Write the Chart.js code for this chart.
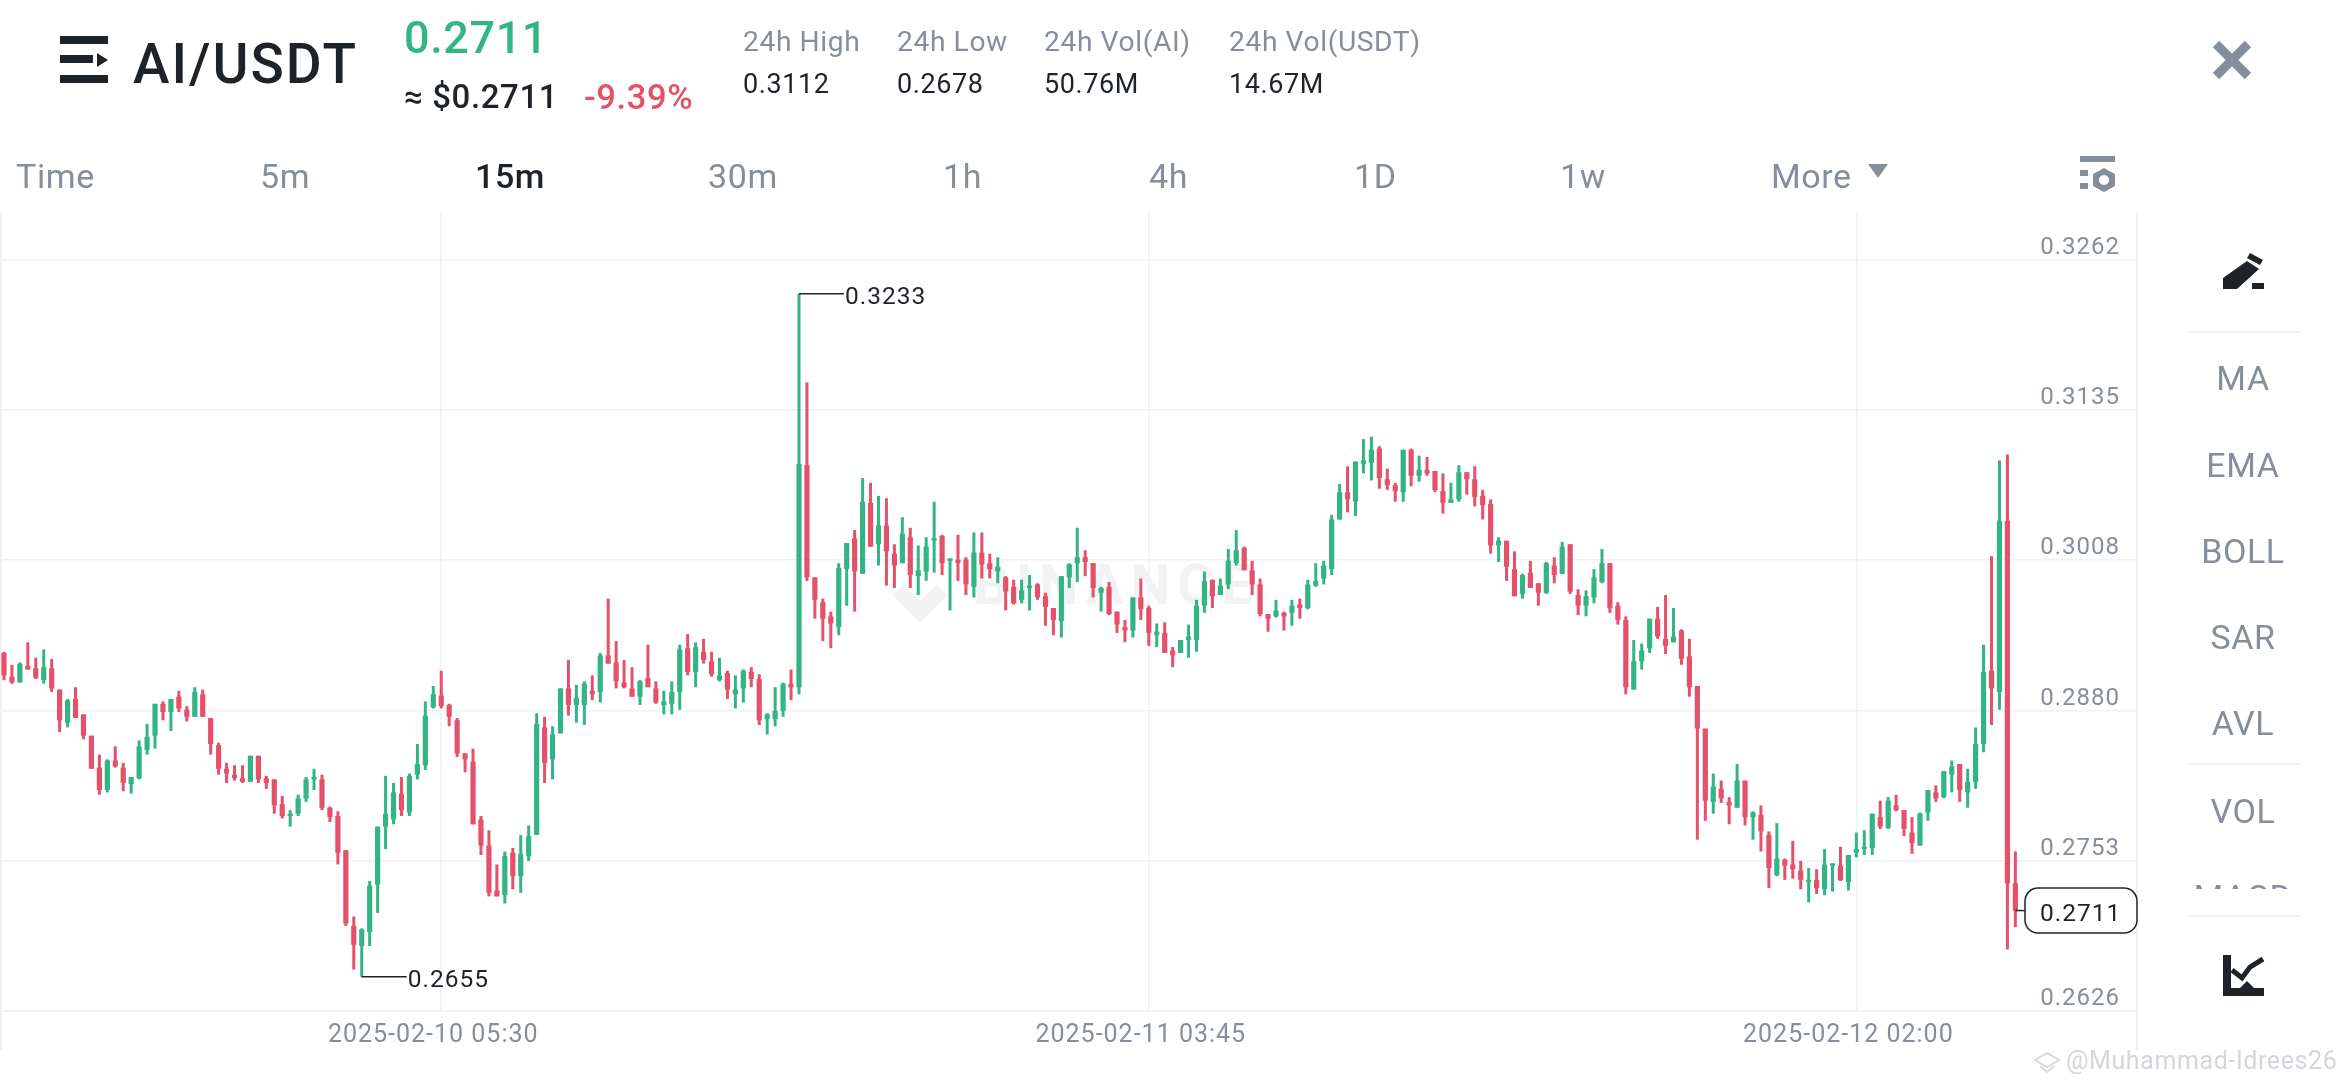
<!DOCTYPE html>
<html>
<head>
<meta charset="utf-8">
<title>AI/USDT</title>
<script src="https://cdn.jsdelivr.net/npm/chart.js@4/dist/chart.umd.js"></script>
<style>
html, body { margin: 0; padding: 0; background: #fff; }
body { width: 2340px; height: 1080px; position: relative; overflow: hidden; font-family: Roboto, sans-serif; }
.t { position: absolute; white-space: nowrap; line-height: 50px; height: 50px; letter-spacing: 0.6px; }
.gray { color: #868e9b; }
.dark { color: #1e2329; }
.tab { font-size: 34px; color: #868e9b; top: 151px; }
.stat { font-size: 28.2px; top: 17px; color: #868e9b; }
.val { font-size: 27px; top: 59px; color: #1e2329; }
.side { font-size: 34px; color: #868e9b; left: 2143px; width: 200px; text-align: center; }
.line { position: absolute; background: #eef0f2; }
#chart { position: absolute; left: 0; top: 0; }
#mark { position: absolute; left: 973px; top: 550px; font: 700 56px Roboto, sans-serif; letter-spacing: 7px; color: #f1f2f3; line-height: 70px; }
svg { position: absolute; }
</style>
</head>
<body>
<svg style="left:0;top:0" width="2340" height="210">
  <g fill="#1e2329">
    <rect x="60" y="36" width="48" height="8"/><rect x="60" y="55" width="33" height="8"/>
    <polygon points="97,53 108,60 97,67"/><rect x="60" y="75" width="48" height="8"/>
  </g>
  <path d="M2216 44 L2248 76 M2248 44 L2216 76" stroke="#868e9b" stroke-width="9" fill="none"/>
  <polygon points="1868,164 1888,164 1878,178" fill="#868e9b"/>
  <g fill="#868e9b">
    <rect x="2080" y="156" width="35" height="6"/><rect x="2080" y="170" width="8" height="6"/><rect x="2080" y="183" width="8" height="6"/>
    <path fill-rule="evenodd" d="M2104 168 L2115 174 V186 L2104 192 L2093 186 V174 Z M2104 175 a5 5 0 1 0 .01 0 Z"/>
  </g>
</svg>
<div id="mark">BINANCE</div>
<svg style="left:890px;top:560px" width="70" height="70"><path d="M8 30 L30 52 L52 30" fill="none" stroke="#f1f2f3" stroke-width="15"/></svg>
<div class="line" style="left:0;top:212px;width:2px;height:838px"></div>
<div class="line" style="left:2136px;top:212px;width:2px;height:838px"></div>
<canvas id="chart" width="2340" height="1080"></canvas>

<div class="t dark" style="left:133px;top:38px;font-size:55px;font-weight:500;line-height:52px;letter-spacing:2px">AI/USDT</div>
<div class="t" style="left:404px;top:13px;font-size:45px;font-weight:500;color:#33b583">0.2711</div>
<div class="t dark" style="left:404px;top:72px;font-size:33px;font-weight:500">≈ $0.2711</div>
<div class="t" style="left:584px;top:72px;font-size:34.5px;font-weight:500;color:#e5506a">-9.39%</div>
<div class="t stat" style="left:743px">24h High</div>
<div class="t stat" style="left:897px">24h Low</div>
<div class="t stat" style="left:1044px">24h Vol(AI)</div>
<div class="t stat" style="left:1229px">24h Vol(USDT)</div>
<div class="t val" style="left:743px">0.3112</div>
<div class="t val" style="left:897px">0.2678</div>
<div class="t val" style="left:1044px">50.76M</div>
<div class="t val" style="left:1229px">14.67M</div>
<div class="t tab" style="left:16px">Time</div>
<div class="t tab" style="left:260px">5m</div>
<div class="t tab" style="left:475px;color:#1e2329;font-weight:500">15m</div>
<div class="t tab" style="left:708px">30m</div>
<div class="t tab" style="left:943px">1h</div>
<div class="t tab" style="left:1149px">4h</div>
<div class="t tab" style="left:1354px">1D</div>
<div class="t tab" style="left:1560px">1w</div>
<div class="t tab" style="left:1771px">More</div>

<svg style="left:2175px;top:240px" width="130" height="60"><g fill="#1e2329">
  <polygon points="48,49 48,38 72,21 84,29 62,49"/><polygon points="75,13 88,20 85,25 72,18"/><rect x="77" y="43" width="12" height="6"/>
</g></svg>
<div class="line" style="left:2188px;top:331px;width:113px;height:2px"></div>
<div class="t side" style="top:353px">MA</div>
<div class="t side" style="top:440px">EMA</div>
<div class="t side" style="top:526px">BOLL</div>
<div class="t side" style="top:612px">SAR</div>
<div class="t side" style="top:698px">AVL</div>
<div class="line" style="left:2188px;top:763px;width:113px;height:2px"></div>
<div class="t side" style="top:786px">VOL</div>
<div style="position:absolute;left:2143px;top:884px;width:200px;height:5px;overflow:hidden">
  <div class="t side" style="left:0;top:-12px">MACD</div>
</div>
<div class="line" style="left:2188px;top:915px;width:113px;height:2px"></div>
<svg style="left:2215px;top:950px" width="60" height="52">
  <path d="M8 5 H16 V38 H49 V46 H8 Z" fill="#1e2329"/>
  <path d="M17 20 L27 28 L35 17 L48 9" fill="none" stroke="#1e2329" stroke-width="5"/>
  <polygon points="25,38 39,38 32,31" fill="#1e2329"/>
</svg>
<svg style="left:2033px;top:1050px" width="30" height="26"><path d="M2 10 L14 3 L26 10 L14 17 Z M7 16 L14 22 L21 16" fill="none" stroke="#d5d8dc" stroke-width="2"/></svg>
<div class="t" style="left:2066px;top:1036px;font-size:25px;color:#d3d6da">@Muhammad-Idrees26</div>

<script>
// 15 minute candles
const opens = [
  .2929,.2909,.2904,.2918,.2916,.2906,.2916,.2898,.2870,.2890,
  .2877,.2859,.2832,.2813,.2838,.2832,.2818,.2823,.2847,.2859,
  .2886,.2879,.2892,.2881,.2875,.2894,.2874,.2851,.2831,.2826,
  .2823,.2820,.2842,.2823,.2822,.2801,.2791,.2793,.2806,.2822,
  .2822,.2798,.2791,.2762,.2698,.2681,.2693,.2733,.2782,.2788,
  .2810,.2794,.2826,.2834,.2883,.2893,.2885,.2872,.2844,.2837,
  .2788,.2766,.2728,.2724,.2760,.2740,.2757,.2775,.2866,.2839,
  .2861,.2899,.2885,.2885,.2897,.2896,.2927,.2921,.2904,.2899,
  .2892,.2908,.2899,.2885,.2886,.2896,.2933,.2913,.2930,.2922,
  .2906,.2912,.2894,.2899,.2913,.2907,.2873,.2873,.2880,.2903,
  .2900,.3088,.2993,.2972,.2960,.2951,.3000,.3026,.2996,.3056,
  .3021,.3037,.3013,.3005,.3027,.2994,.2998,.3024,.3028,.3007,
  .3008,.3008,.2985,.3014,.3005,.2998,.2993,.2985,.2974,.2984,
  .2987,.2977,.2967,.2956,.2993,.3005,.3010,.3005,.2980,.2985,
  .2964,.2951,.2948,.2976,.2967,.2944,.2946,.2931,.2929,.2940,
  .2940,.2969,.2991,.2978,.2987,.3005,.3018,.2999,.2987,.2962,
  .2960,.2963,.2963,.2970,.2967,.2986,.2992,.3000,.3042,.3065,
  .3057,.3089,.3090,.3102,.3076,.3071,.3065,.3101,.3079,.3084,
  .3083,.3066,.3056,.3059,.3082,.3076,.3062,.3055,.3020,.3024,
  .3000,.2979,.2997,.2988,.2980,.3003,.2996,.3021,.2978,.2969,
  .2976,.2989,.3005,.2969,.2957,.2898,.2922,.2933,.2958,.2941,
  .2938,.2948,.2926,.2901,.2865,.2803,.2814,.2803,.2798,.2821,
  .2790,.2792,.2775,.2741,.2754,.2750,.2745,.2735,.2737,.2729,
  .2749,.2749,.2735,.2760,.2763,.2764,.2790,.2781,.2800,.2796,
  .2777,.2766,.2794,.2811,.2807,.2826,.2835,.2811,.2820,.2852,
  .2914,.2896,.3041,.2734
];
const closes = [
  .2910,.2904,.2920,.2915,.2908,.2917,.2899,.2872,.2889,.2874,
  .2859,.2831,.2813,.2838,.2833,.2819,.2824,.2850,.2858,.2886,
  .2879,.2890,.2882,.2875,.2896,.2875,.2852,.2831,.2827,.2823,
  .2820,.2842,.2822,.2819,.2800,.2791,.2793,.2806,.2822,.2824,
  .2798,.2790,.2760,.2700,.2682,.2695,.2732,.2782,.2793,.2811,
  .2796,.2825,.2835,.2876,.2894,.2884,.2875,.2844,.2839,.2784,
  .2766,.2726,.2723,.2757,.2740,.2759,.2774,.2869,.2836,.2860,
  .2899,.2885,.2891,.2903,.2894,.2927,.2920,.2905,.2900,.2892,
  .2905,.2900,.2887,.2888,.2896,.2932,.2913,.2934,.2923,.2911,
  .2910,.2898,.2898,.2914,.2907,.2872,.2877,.2880,.2903,.2900,
  .3089,.2993,.2974,.2958,.2954,.3001,.3022,.2998,.3057,.3019,
  .3037,.3015,.3003,.3030,.2995,.2999,.3019,.3026,.3005,.3009,
  .3005,.2987,.3014,.3004,.3000,.3002,.2981,.2971,.2982,.2986,
  .2976,.2968,.2957,.2994,.3004,.3010,.3006,.2984,.2984,.2962,
  .2953,.2948,.2976,.2966,.2946,.2947,.2929,.2927,.2940,.2943,
  .2969,.2990,.2977,.2986,.3007,.3016,.2999,.2987,.2962,.2958,
  .2965,.2960,.2969,.2967,.2987,.2990,.3003,.3042,.3065,.3059,
  .3091,.3092,.3101,.3077,.3071,.3066,.3101,.3079,.3084,.3081,
  .3067,.3056,.3059,.3082,.3076,.3061,.3054,.3020,.3024,.3002,
  .2977,.2995,.2984,.2980,.3005,.2995,.3019,.2981,.2969,.2977,
  .2993,.3005,.2967,.2957,.2900,.2922,.2931,.2958,.2943,.2935,
  .2943,.2924,.2900,.2865,.2804,.2816,.2806,.2800,.2821,.2790,
  .2794,.2778,.2747,.2755,.2749,.2746,.2737,.2737,.2730,.2750,
  .2751,.2737,.2758,.2763,.2765,.2793,.2782,.2804,.2796,.2780,
  .2768,.2793,.2813,.2806,.2829,.2833,.2813,.2820,.2852,.2913,
  .2899,.3041,.2734,.2711
];
const highs = [
  .2930,.2919,.2921,.2938,.2925,.2932,.2924,.2898,.2890,.2900,
  .2877,.2859,.2843,.2839,.2850,.2836,.2824,.2855,.2869,.2886,
  .2888,.2890,.2897,.2884,.2900,.2898,.2874,.2853,.2836,.2834,
  .2834,.2842,.2842,.2825,.2822,.2808,.2796,.2809,.2824,.2831,
  .2826,.2799,.2795,.2762,.2706,.2696,.2736,.2782,.2825,.2819,
  .2824,.2827,.2852,.2888,.2901,.2914,.2886,.2874,.2844,.2848,
  .2791,.2779,.2750,.2761,.2764,.2775,.2783,.2878,.2875,.2867,
  .2899,.2923,.2902,.2905,.2910,.2929,.2975,.2939,.2923,.2917,
  .2906,.2936,.2905,.2897,.2905,.2936,.2945,.2938,.2941,.2930,
  .2925,.2914,.2910,.2915,.2917,.2911,.2878,.2900,.2904,.2915,
  .3233,.3158,.2993,.2975,.2964,.3005,.3022,.3033,.3077,.3073,
  .3062,.3060,.3021,.3044,.3035,.3020,.3027,.3057,.3029,.3009,
  .3029,.3010,.3031,.3031,.3013,.3010,.2994,.2991,.2991,.2995,
  .2988,.2980,.2967,.2994,.3005,.3035,.3016,.3005,.2985,.2989,
  .2964,.2957,.2976,.2992,.2969,.2954,.2955,.2934,.2940,.2953,
  .2974,.2998,.2991,.2992,.3017,.3033,.3019,.3007,.2992,.2962,
  .2974,.2964,.2974,.2975,.2991,.3005,.3007,.3046,.3072,.3087,
  .3091,.3110,.3112,.3104,.3085,.3073,.3101,.3102,.3096,.3095,
  .3083,.3081,.3073,.3088,.3082,.3087,.3067,.3059,.3027,.3024,
  .3015,.2996,.3007,.2988,.3006,.3010,.3023,.3021,.2983,.2982,
  .3000,.3017,.3005,.2972,.2960,.2940,.2937,.2958,.2968,.2978,
  .2967,.2949,.2941,.2901,.2865,.2827,.2821,.2807,.2835,.2821,
  .2795,.2800,.2778,.2785,.2755,.2770,.2753,.2747,.2746,.2763,
  .2751,.2765,.2758,.2777,.2779,.2793,.2804,.2807,.2809,.2796,
  .2790,.2794,.2813,.2817,.2829,.2838,.2835,.2831,.2866,.2936,
  .3011,.3092,.3097,.2761
];
const lows = [
  .2906,.2903,.2904,.2915,.2907,.2903,.2896,.2862,.2866,.2874,
  .2856,.2831,.2809,.2811,.2832,.2812,.2810,.2822,.2843,.2848,
  .2872,.2863,.2879,.2871,.2875,.2875,.2843,.2826,.2819,.2821,
  .2819,.2820,.2819,.2814,.2793,.2789,.2782,.2791,.2803,.2813,
  .2796,.2786,.2750,.2698,.2661,.2655,.2681,.2709,.2763,.2784,
  .2791,.2791,.2822,.2830,.2882,.2882,.2867,.2841,.2828,.2784,
  .2758,.2723,.2723,.2717,.2729,.2726,.2753,.2775,.2819,.2822,
  .2861,.2876,.2870,.2868,.2889,.2887,.2920,.2899,.2899,.2892,
  .2885,.2900,.2886,.2877,.2877,.2881,.2910,.2900,.2920,.2909,
  .2905,.2890,.2882,.2887,.2900,.2868,.2860,.2867,.2875,.2889,
  .2894,.2990,.2958,.2939,.2933,.2944,.2969,.2964,.2996,.3019,
  .3003,.2986,.2984,.3005,.2984,.2978,.2990,.2997,.2995,.2965,
  .2990,.2978,.2976,.2992,.2992,.2988,.2965,.2970,.2971,.2965,
  .2974,.2952,.2944,.2942,.2984,.2989,.2994,.2976,.2964,.2961,
  .2946,.2938,.2942,.2957,.2935,.2934,.2929,.2917,.2929,.2925,
  .2930,.2963,.2967,.2978,.2983,.3003,.2999,.2978,.2960,.2947,
  .2959,.2948,.2952,.2958,.2966,.2985,.2987,.2995,.3042,.3048,
  .3045,.3081,.3075,.3068,.3067,.3057,.3057,.3070,.3074,.3079,
  .3065,.3047,.3056,.3057,.3063,.3053,.3042,.3013,.3006,.2990,
  .2977,.2975,.2984,.2969,.2979,.2988,.2996,.2979,.2961,.2960,
  .2971,.2988,.2963,.2953,.2894,.2898,.2915,.2929,.2941,.2928,
  .2938,.2919,.2892,.2771,.2787,.2793,.2802,.2784,.2798,.2783,
  .2771,.2761,.2730,.2740,.2737,.2738,.2729,.2718,.2725,.2724,
  .2727,.2736,.2728,.2756,.2758,.2758,.2780,.2780,.2795,.2774,
  .2759,.2766,.2787,.2803,.2806,.2811,.2803,.2798,.2814,.2845,
  .2868,.2881,.2678,.2697
];
const priceTicks = [0.2626, 0.2753, 0.2880, 0.3008, 0.3135, 0.3262];
const timeTicks = [55, 144, 233];
const timeLabels = ["2025-02-10 05:30", "2025-02-11 03:45", "2025-02-12 02:00"];
const highMark = { index: 100, price: 0.3233 };
const lowMark = { index: 45, price: 0.2655 };
const lastPrice = 0.2711;

const green = "#33b583";
const red = "#e5506a";
const gridColor = "#f0f1f3";
const colours = opens.map((o, i) => closes[i] >= o ? green : red);

const marks = {
  id: "marks",
  beforeDraw(chart) {
    chart.ctx.letterSpacing = "1px";
  },
  afterDatasetsDraw(chart) {
    const { ctx, scales: { x, y } } = chart;
    ctx.save();
    ctx.strokeStyle = "#1e2329";
    ctx.fillStyle = "#1e2329";
    ctx.lineWidth = 1.5;
    ctx.font = "24.5px Roboto";
    ctx.textBaseline = "middle";
    [highMark, lowMark].forEach(m => {
      const px = x.getPixelForValue(m.index);
      const py = y.getPixelForValue(m.price);
      ctx.beginPath();
      ctx.moveTo(px, py);
      ctx.lineTo(px + 45, py);
      ctx.stroke();
      ctx.fillText(m.price.toFixed(4), px + 46, py + 4);
    });
    // current price box
    const last = opens.length - 1;
    const py = y.getPixelForValue(lastPrice);
    ctx.beginPath();
    ctx.moveTo(x.getPixelForValue(last), py);
    ctx.lineTo(2025, py);
    ctx.stroke();
    ctx.beginPath();
    ctx.roundRect(2025, py - 22.5, 112, 45, 13);
    ctx.fillStyle = "#fff";
    ctx.fill();
    ctx.stroke();
    ctx.fillStyle = "#1e2329";
    ctx.fillText(lastPrice.toFixed(4), 2040, py + 4);
    ctx.restore();
  }
};

new Chart(document.getElementById("chart"), {
  type: "bar",
  data: {
    datasets: [
      {
        data: opens.map((o, i) => ({ x: i, y: [lows[i], highs[i]] })),
        backgroundColor: colours,
        barThickness: 3,
        inflateAmount: 0
      },
      {
        data: opens.map((o, i) => ({ x: i, y: [o, closes[i]] })),
        backgroundColor: colours,
        barThickness: 5.2,
        inflateAmount: 0
      }
    ]
  },
  options: {
    responsive: false,
    animation: false,
    devicePixelRatio: 1,
    layout: { padding: { top: 212, right: 203, left: 0, bottom: 0 } },
    plugins: { legend: { display: false }, tooltip: { enabled: false } },
    datasets: { bar: { grouped: false } },
    scales: {
      x: {
        type: "linear",
        min: -0.5,
        max: 268.3,
        offset: false,
        grid: { offset: false, color: gridColor, lineWidth: 1.5, drawTicks: false },
        border: { color: gridColor, width: 2 },
        afterBuildTicks: axis => { axis.ticks = timeTicks.map(v => ({ value: v })); },
        afterFit: axis => { axis.height = 69; },
        ticks: {
          autoSkip: false,
          maxRotation: 0,
          padding: 10,
          labelOffset: -8,
          color: "#868e9b",
          font: { family: "Roboto", size: 25 },
          callback: value => timeLabels[timeTicks.indexOf(value)]
        }
      },
      y: {
        type: "linear",
        position: "right",
        min: 0.2626,
        max: 0.33022,
        grid: { color: gridColor, lineWidth: 1.5, drawTicks: false },
        border: { display: false },
        afterBuildTicks: axis => { axis.ticks = priceTicks.map(v => ({ value: v })); },
        afterFit: axis => { axis.width = 0; },
        ticks: {
          mirror: true,
          align: "end",
          padding: -17,
          color: "#868e9b",
          font: { family: "Roboto", size: 24 },
          callback: value => value.toFixed(4)
        }
      }
    }
  },
  plugins: [marks]
});
</script>
</body>
</html>
